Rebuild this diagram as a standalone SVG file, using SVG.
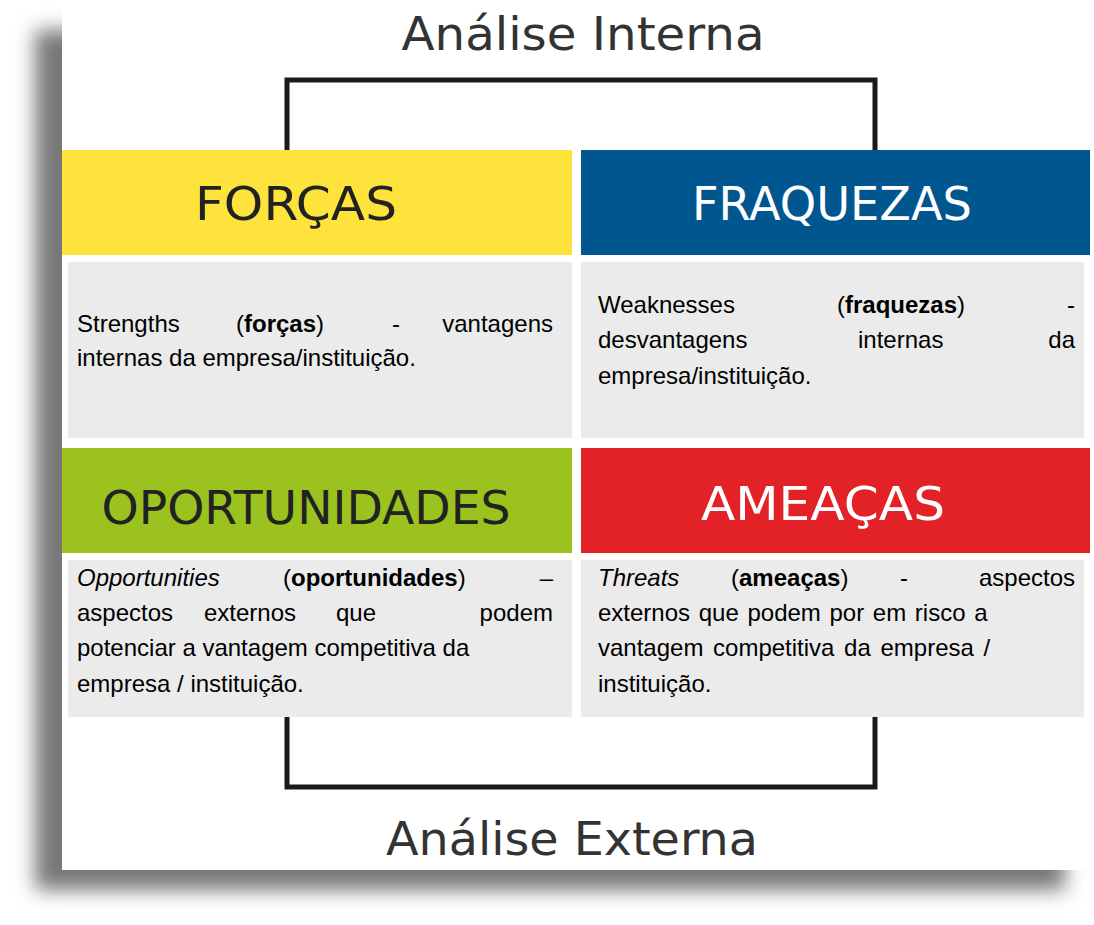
<svg xmlns="http://www.w3.org/2000/svg" width="1094" height="925" viewBox="0 0 1094 925">
<defs>
<filter id="sh" x="-10%" y="-10%" width="120%" height="120%"><feGaussianBlur stdDeviation="10"/></filter>
<style>
.t{font-family:"Liberation Sans",Arial,sans-serif;font-size:24px;fill:#000}
.e{text-anchor:end}
.h{font-family:"DejaVu Sans","Liberation Sans",sans-serif;font-size:46px;text-anchor:middle}
.g{fill:#EBEBEB}
.br{fill:none;stroke:#1a1a1a;stroke-width:5}
.ti{font-family:"DejaVu Sans","Liberation Sans",sans-serif;font-size:46px;fill:#333;text-anchor:middle}
</style>
</defs>
<rect x="0" y="0" width="1094" height="925" fill="#fff"/>
<rect x="35" y="30" width="1030" height="860" fill="#777" filter="url(#sh)"/>
<rect x="62" y="0" width="1030" height="870" fill="#fff"/>
<text class="ti" x="583" y="50" textLength="363" lengthAdjust="spacingAndGlyphs">Análise Interna</text>
<text class="ti" x="572" y="855" textLength="372" lengthAdjust="spacingAndGlyphs">Análise Externa</text>
<g id="connectors">
<path class="br" d="M287,150 V80 H875 V150"/>
<path class="br" d="M287,717 V787 H875 V717"/>
</g>
<g id="forcas">
<rect x="62" y="150" width="510" height="105" fill="#FFE33D"/>
<text class="h" x="296" y="220" fill="#222" textLength="202" lengthAdjust="spacingAndGlyphs">FORÇAS</text>
<rect class="g" x="68" y="262" width="504" height="176"/>
<text class="t" x="77" y="332">Strengths</text>
<text class="t" x="236" y="332">(<tspan font-weight="bold">forças</tspan>)</text>
<text class="t" x="392" y="332">-</text>
<text class="t e" x="553" y="332">vantagens</text>
<text class="t" x="77" y="366">internas da empresa/instituição.</text>
</g>
<g id="fraquezas">
<rect x="581" y="150" width="509" height="105" fill="#00568F"/>
<text class="h" x="832" y="220" fill="#fff" textLength="280" lengthAdjust="spacingAndGlyphs">FRAQUEZAS</text>
<rect class="g" x="581" y="262" width="503" height="176"/>
<text class="t" x="598" y="313">Weaknesses</text>
<text class="t" x="837" y="313">(<tspan font-weight="bold">fraquezas</tspan>)</text>
<text class="t e" x="1075" y="313">-</text>
<text class="t" x="598" y="348">desvantagens</text>
<text class="t" x="858" y="348">internas</text>
<text class="t e" x="1075" y="348">da</text>
<text class="t" x="598" y="384">empresa/instituição.</text>
</g>
<g id="oportunidades">
<rect x="62" y="448" width="510" height="105" fill="#9BC21F"/>
<text class="h" x="306" y="524" fill="#222" textLength="409" lengthAdjust="spacingAndGlyphs">OPORTUNIDADES</text>
<rect class="g" x="68" y="560" width="504" height="157"/>
<text class="t" x="77" y="586" font-style="italic">Opportunities</text>
<text class="t" x="283" y="586">(<tspan font-weight="bold">oportunidades</tspan>)</text>
<text class="t e" x="553" y="586">–</text>
<text class="t" x="77" y="621">aspectos</text>
<text class="t" x="204" y="621">externos</text>
<text class="t" x="336" y="621">que</text>
<text class="t e" x="553" y="621">podem</text>
<text class="t" x="77" y="656">potenciar a vantagem competitiva da</text>
<text class="t" x="77" y="692">empresa / instituição.</text>
</g>
<g id="ameacas">
<rect x="581" y="448" width="509" height="105" fill="#E32228"/>
<text class="h" x="823" y="520" fill="#fff" textLength="244" lengthAdjust="spacingAndGlyphs">AMEAÇAS</text>
<rect class="g" x="581" y="560" width="503" height="157"/>
<text class="t" x="598" y="586" font-style="italic">Threats</text>
<text class="t" x="731" y="586">(<tspan font-weight="bold">ameaças</tspan>)</text>
<text class="t" x="900" y="586">-</text>
<text class="t e" x="1075" y="586">aspectos</text>
<text class="t" x="598" y="621" word-spacing="2">externos que podem por em risco a</text>
<text class="t" x="598" y="656" word-spacing="3">vantagem competitiva da empresa /</text>
<text class="t" x="598" y="692">instituição.</text>
</g>
</svg>
